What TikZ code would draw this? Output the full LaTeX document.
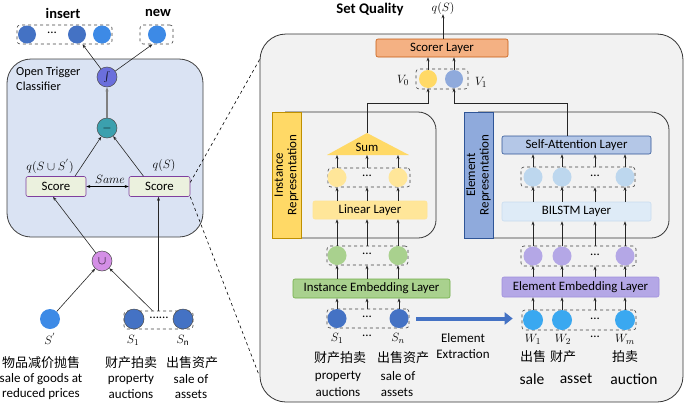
\documentclass[tikz,border=0pt]{standalone}
\usepackage{fontspec}
\setmainfont{Carlito}
\newfontfamily\cjk{Noto Sans CJK SC}
\usetikzlibrary{arrows.meta,calc}
\definecolor{clsfill}{HTML}{DAE3F3}
\definecolor{panfill}{HTML}{F2F2F2}
\definecolor{intfill}{HTML}{6B6FDC}
\definecolor{minfill}{HTML}{3BA0AE}
\definecolor{scfill}{HTML}{EBF1DE}
\definecolor{scdraw}{HTML}{7F3F9F}
\definecolor{unfill}{HTML}{D48FE6}
\definecolor{brightblue}{HTML}{3D8AE6}
\definecolor{darkblue}{HTML}{4472C4}
\definecolor{scorerfill}{HTML}{F4B183}
\definecolor{scorerdraw}{HTML}{C55A11}
\definecolor{yel}{HTML}{FFD966}
\definecolor{yeldraw}{HTML}{BF9000}
\definecolor{lyel}{HTML}{FFE699}
\definecolor{grn}{HTML}{A9D18E}
\definecolor{grndraw}{HTML}{70AD47}
\definecolor{stripblue}{HTML}{8FAADC}
\definecolor{navy}{HTML}{2F5597}
\definecolor{attfill}{HTML}{B4C7E7}
\definecolor{lblue}{HTML}{BDD7EE}
\definecolor{bilfill}{HTML}{DEEBF7}
\definecolor{bildraw}{HTML}{C9DCEF}
\definecolor{lav}{HTML}{B4A7E6}
\definecolor{lavdraw}{HTML}{9F8FDC}
\definecolor{cyanb}{HTML}{3AA8F0}
\begin{document}
\begin{tikzpicture}[x=1pt,y=-1pt,
  every node/.style={font=\fontsize{12.8}{14}\selectfont, inner sep=0pt},
  arr/.style={-{Stealth[length=4pt,width=3pt]}, line width=0.6pt, draw=black!85},
  dbox/.style={draw=black!75, dashed, rounded corners=3pt, line width=0.6pt},
  circ/.style={circle, minimum size=19pt, inner sep=0pt},
  lcirc/.style={circle, minimum size=20pt, inner sep=0pt, draw=black!70, line width=0.5pt},
  lay/.style={rectangle, rounded corners=2pt, draw, line width=0.6pt},
  cjktext/.style={font=\cjk\fontsize{13}{15}\selectfont},
  entext/.style={font=\fontsize{13}{14}\selectfont},
  mathlab/.style={font=\fontsize{13}{14}\selectfont},
  strip/.style={rectangle, line width=0.6pt, minimum width=29pt, minimum height=126pt},
  striptext/.style={rotate=90, align=center, font=\fontsize{13}{13.5}\selectfont},
  bigtext/.style={font=\fontsize{15.5}{16}\selectfont}
]
\useasboundingbox (0,0) rectangle (685,407);

% ---------------- LEFT PART ----------------
\node[font=\bfseries\fontsize{14.5}{15}\selectfont] (lins) at (63,13) {insert};
\node[font=\bfseries\fontsize{14.5}{15}\selectfont] (lnew) at (158,13) {new};
\node[dbox, minimum width=95pt, minimum height=19pt] (ibox) at (64.5,34.5) {};
\node[circ, minimum size=18pt, fill=darkblue] (i1) at (27,34.5) {};
\node (idots) at (52,33) {...};
\node[circ, minimum size=18pt, fill=darkblue] (i2) at (77,34.5) {};
\node[circ, minimum size=18pt, fill=brightblue] (i3) at (102,34.5) {};
\node[dbox, minimum width=33pt, minimum height=19pt] (nbox) at (156.5,34.5) {};
\node[circ, minimum size=18pt, fill=brightblue] (n1) at (157,34.5) {};

\node[draw=black!75, fill=clsfill, rounded corners=24pt, line width=0.8pt,
      minimum width=196pt, minimum height=178pt] (cls) at (105,148) {};
\node[anchor=north west, align=left, font=\fontsize{12.3}{15}\selectfont] (clslab) at (16,67) {Open Trigger\\Classifier};

\node[lcirc, fill=intfill] (intc) at (107,77) {$\int$};
\node[lcirc, fill=minfill] (minc) at (107,128) {$-$};
\node[lay, draw=scdraw, fill=scfill, minimum width=60pt, minimum height=20pt] (scoreL) at (56,186.5) {Score};
\node[lay, draw=scdraw, fill=scfill, minimum width=61pt, minimum height=20pt] (scoreR) at (159.5,186.5) {Score};
\node[mathlab] (qL) at (50,166) {$q(S\cup S^{'})$};
\node[mathlab] (qR) at (164,165) {$q(S)$};
\node[mathlab] (same) at (110,179) {$Same$};
\draw[{Stealth[length=4pt,width=3pt]}-{Stealth[length=4pt,width=3pt]}, line width=0.6pt] (scoreL) -- (scoreR);

\node[lcirc, fill=unfill] (union) at (102,261) {$\cup$};
\node[circ, minimum size=20pt, fill=brightblue] (Sp) at (50,319) {};
\node[dbox, minimum width=69pt, minimum height=18pt] (sbox) at (158.5,320) {};
\node[lcirc, fill=darkblue] (S1) at (134,319) {};
\node[lcirc, fill=darkblue] (Sn) at (183,319) {};
\node (sdots) at (159,318) {......};
\node[mathlab] (lSp) at (50,339) {$S^{'}$};
\node[mathlab] (lS1) at (133,340) {$S_1$};
\node[mathlab] (lSn) at (183,340) {$S_{\mathrm{n}}$};
\node[cjktext] (t1a) at (41,363) {物品减价抛售};
\node[entext] (t1b) at (41,379) {sale of goods at};
\node[entext] (t1c) at (41,394) {reduced prices};
\node[cjktext] (t2a) at (131,363) {财产拍卖};
\node[entext] (t2b) at (131,379) {property};
\node[entext] (t2c) at (131,394) {auctions};
\node[cjktext] (t3a) at (192,363) {出售资产};
\node[entext] (t3b) at (191,379) {sale of};
\node[entext] (t3c) at (191,394) {assets};

% left connectors
\draw[arr] (Sp) -- (union);
\draw[arr] ([xshift=-6pt]sbox.north) -- (union);
\draw[arr] (sbox.north) -- (sbox.north |- scoreR.south);
\draw[arr] (union) -- ([xshift=-3pt]scoreL.south);
\draw[arr] ([xshift=19pt]scoreL.north) -- (minc);
\draw[arr] ([xshift=-16pt]scoreR.north) -- (minc);
\draw[arr, draw=black!50, line width=1.3pt] (minc) -- (intc);
\draw[arr] (intc) -- ([xshift=18pt]ibox.south);
\draw[arr] (intc) -- ([xshift=-4pt]nbox.south);

% ---------------- RIGHT PANEL ----------------
\node[draw=black!80, fill=panfill, rounded corners=26pt, line width=0.8pt,
      minimum width=423pt, minimum height=368pt] (panel) at (471.5,218) {};

% zoom lines
\coordinate (zt) at (261,57);
\coordinate (zb) at (259,375);
\draw[dashed, line width=0.6pt] ($(scoreR.north east)!0.3!(scoreR.south east)$) -- (zt);
\draw[dashed, line width=0.6pt] (scoreR.south east) -- (zb);

\node[font=\bfseries\fontsize{14.7}{15}\selectfont] (setq) at (370,9) {Set Quality};
\node[mathlab] (qS) at (443,8) {$q(S)$};
\node[lay, draw=scorerdraw, fill=scorerfill, minimum width=132pt, minimum height=18pt] (scorer) at (442,48) {Scorer Layer};
\draw[arr] (scorer.north -| qS) -- (qS.south);
\node[dbox, minimum width=52pt, minimum height=20pt] (vbox) at (442,79) {};
\node[circ, minimum size=18pt, fill=yel] (v0) at (428,79) {};
\node[circ, minimum size=18pt, fill=stripblue] (v1) at (454,79) {};
\node[mathlab] (lv0) at (403,80) {$V_0$};
\node[mathlab] (lv1) at (481,82) {$V_1$};
\draw[arr] (v0.north) -- (v0.north |- scorer.south);
\draw[arr] (v1.north) -- (v1.north |- scorer.south);

% Instance representation
\draw[draw=black!80, rounded corners=18pt, line width=0.8pt] (285,112) -- (436,112) -- (436,238) -- (285,238);
\node[strip, fill=yel, draw=yeldraw] (istrip) at (286.5,175) {};
\node[striptext] (istriptext) at (286.5,175) {Instance\\Representation};

\coordinate (sumapex) at (367,133);
\coordinate (sumbase) at (367,155);
\fill[yel] (sumapex) -- (409,155) -- (327,155) -- cycle;
\node (sumt) at (367,147) {Sum};

\node[dbox, minimum width=82pt, minimum height=19pt] (ybox) at (369,177.5) {};
\node[circ, fill=lyel] (y1) at (337,177.5) {};
\node[circ, fill=lyel] (y2) at (398,177.5) {};
\node (ydots) at (367,176) {...};
\node[lay, draw=yel!70, fill=lyel, minimum width=114pt, minimum height=18pt] (lin) at (370,210) {Linear Layer};

\node[dbox, minimum width=81pt, minimum height=19pt] (gbox) at (367.5,255.5) {};
\node[circ, fill=grn] (g1) at (337,255.5) {};
\node[circ, fill=grn] (g2) at (398,255.5) {};
\node (gdots) at (367,254) {...};
\node[lay, draw=grndraw, fill=grn, minimum width=157pt, minimum height=19pt] (emb) at (371.5,288.5) {Instance Embedding Layer};

\node[dbox, minimum width=82pt, minimum height=19pt] (bbox) at (368,318.5) {};
\node[circ, fill=darkblue] (b1) at (337,318.5) {};
\node[circ, fill=darkblue] (b2) at (399,318.5) {};
\node (bdots) at (367,317) {...};
\node[mathlab] (lb1) at (337,338) {$S_1$};
\node (lbd) at (367,336) {...};
\node[mathlab] (lb2) at (398,338) {$S_n$};
\node[cjktext] (u1a) at (340,358) {财产拍卖};
\node[entext] (u1b) at (338,376) {property};
\node[entext] (u1c) at (338,392) {auctions};
\node[cjktext] (u2a) at (403,358) {出售资产};
\node[entext] (u2b) at (398,376) {sale of};
\node[entext] (u2c) at (397,392) {assets};

% instance arrows
\foreach \c/\d in {b1/b1, bdots/bbox, b2/b2}{
  \draw[arr] (\c |- \d.north) -- (\c |- emb.south);
}
\foreach \c/\d in {g1/g1, gdots/gbox, g2/g2}{
  \draw[arr] (\c |- emb.north) -- (\c |- \d.south);
  \draw[arr] (\c |- \d.north) -- (\c |- lin.south);
}
\foreach \c/\d in {y1/y1, ydots/ybox, y2/y2}{
  \draw[arr] (\c |- lin.north) -- (\c |- \d.south);
  \draw[arr] (\c |- \d.north) -- (\c |- sumbase);
}
\coordinate (bendL) at (367,103);
\draw[arr] (sumapex) -- (bendL) -| (v0.south);

% Element representation
\draw[draw=black!80, rounded corners=18pt, line width=0.8pt] (478,112) -- (669,112) -- (669,238) -- (478,238);
\node[strip, fill=stripblue, draw=navy] (estrip) at (478.5,175) {};
\node[striptext] (estriptext) at (478.5,175) {Element\\Representation};

\node[lay, draw=navy, fill=attfill, minimum width=149pt, minimum height=18pt] (att) at (576.5,145) {Self-Attention Layer};
\node[dbox, minimum width=114pt, minimum height=20pt] (lbox) at (578,177) {};
\node[circ, fill=lblue] (l1) at (533,177) {};
\node[circ, fill=lblue] (l2) at (562,177) {};
\node[circ, fill=lblue] (l3) at (625,177) {};
\node (ldots) at (595,175.5) {...};
\node[lay, draw=bildraw, fill=bilfill, minimum width=149pt, minimum height=19pt] (bil) at (576.5,211.5) {BILSTM Layer};

\node[dbox, minimum width=115pt, minimum height=20pt] (pbox) at (578.5,256) {};
\node[circ, fill=lav] (p1) at (533,256) {};
\node[circ, fill=lav] (p2) at (562,256) {};
\node[circ, fill=lav] (p3) at (625,256) {};
\node (pdots) at (595,254.5) {...};
\node[lay, draw=lavdraw, fill=lav, minimum width=157pt, minimum height=20pt] (eemb) at (580.5,287) {Element Embedding Layer};

\node[dbox, minimum width=114pt, minimum height=20pt] (cbox) at (579,320) {};
\node[circ, minimum size=20pt, fill=cyanb] (c1) at (533,320) {};
\node[circ, minimum size=20pt, fill=cyanb] (c2) at (562,320) {};
\node[circ, minimum size=20pt, fill=cyanb] (c3) at (625,320) {};
\node (cdots) at (595,318.5) {...};
\node[mathlab] (lw1) at (533,339) {$W_1$};
\node[mathlab] (lw2) at (563,339) {$W_2$};
\node (lwd) at (595,337) {...};
\node[mathlab] (lw3) at (625,339) {$W_m$};
\node[cjktext] (w1a) at (533,357) {出售};
\node[cjktext] (w2a) at (563,357) {财产};
\node[cjktext] (w3a) at (625,357) {拍卖};
\node[bigtext] (w1b) at (532,379) {sale};
\node[bigtext] (w2b) at (576,379) {asset};
\node[bigtext] (w3b) at (634,379) {auction};

% element arrows
\foreach \c/\d in {c1/c1, c2/c2, cdots/cbox, c3/c3}{
  \draw[arr] (\c |- \d.north) -- (\c |- eemb.south);
}
\foreach \c/\d in {p1/p1, p2/p2, pdots/pbox, p3/p3}{
  \draw[arr] (\c |- eemb.north) -- (\c |- \d.south);
  \draw[arr] (\c |- \d.north) -- (\c |- bil.south);
}
\foreach \c/\d in {l1/l1, l2/l2, ldots/lbox, l3/l3}{
  \draw[arr] (\c |- bil.north) -- (\c |- \d.south);
  \draw[arr] (\c |- \d.north) -- (\c |- att.south);
}
\coordinate (bendR) at (567,103);
\draw[arr] (bendR |- att.north) -- (bendR) -| (v1.south);

% element extraction
\draw[-{Triangle[length=8pt,width=12pt]}, line width=4pt, draw=darkblue]
  ([xshift=7pt]bbox.east) -- ($(bbox.east -| cbox.west)+(-9,0)$);
\node[entext] (ee1) at (463,338) {Element};
\node[entext] (ee2) at (463,354) {Extraction};
\end{tikzpicture}
\end{document}
